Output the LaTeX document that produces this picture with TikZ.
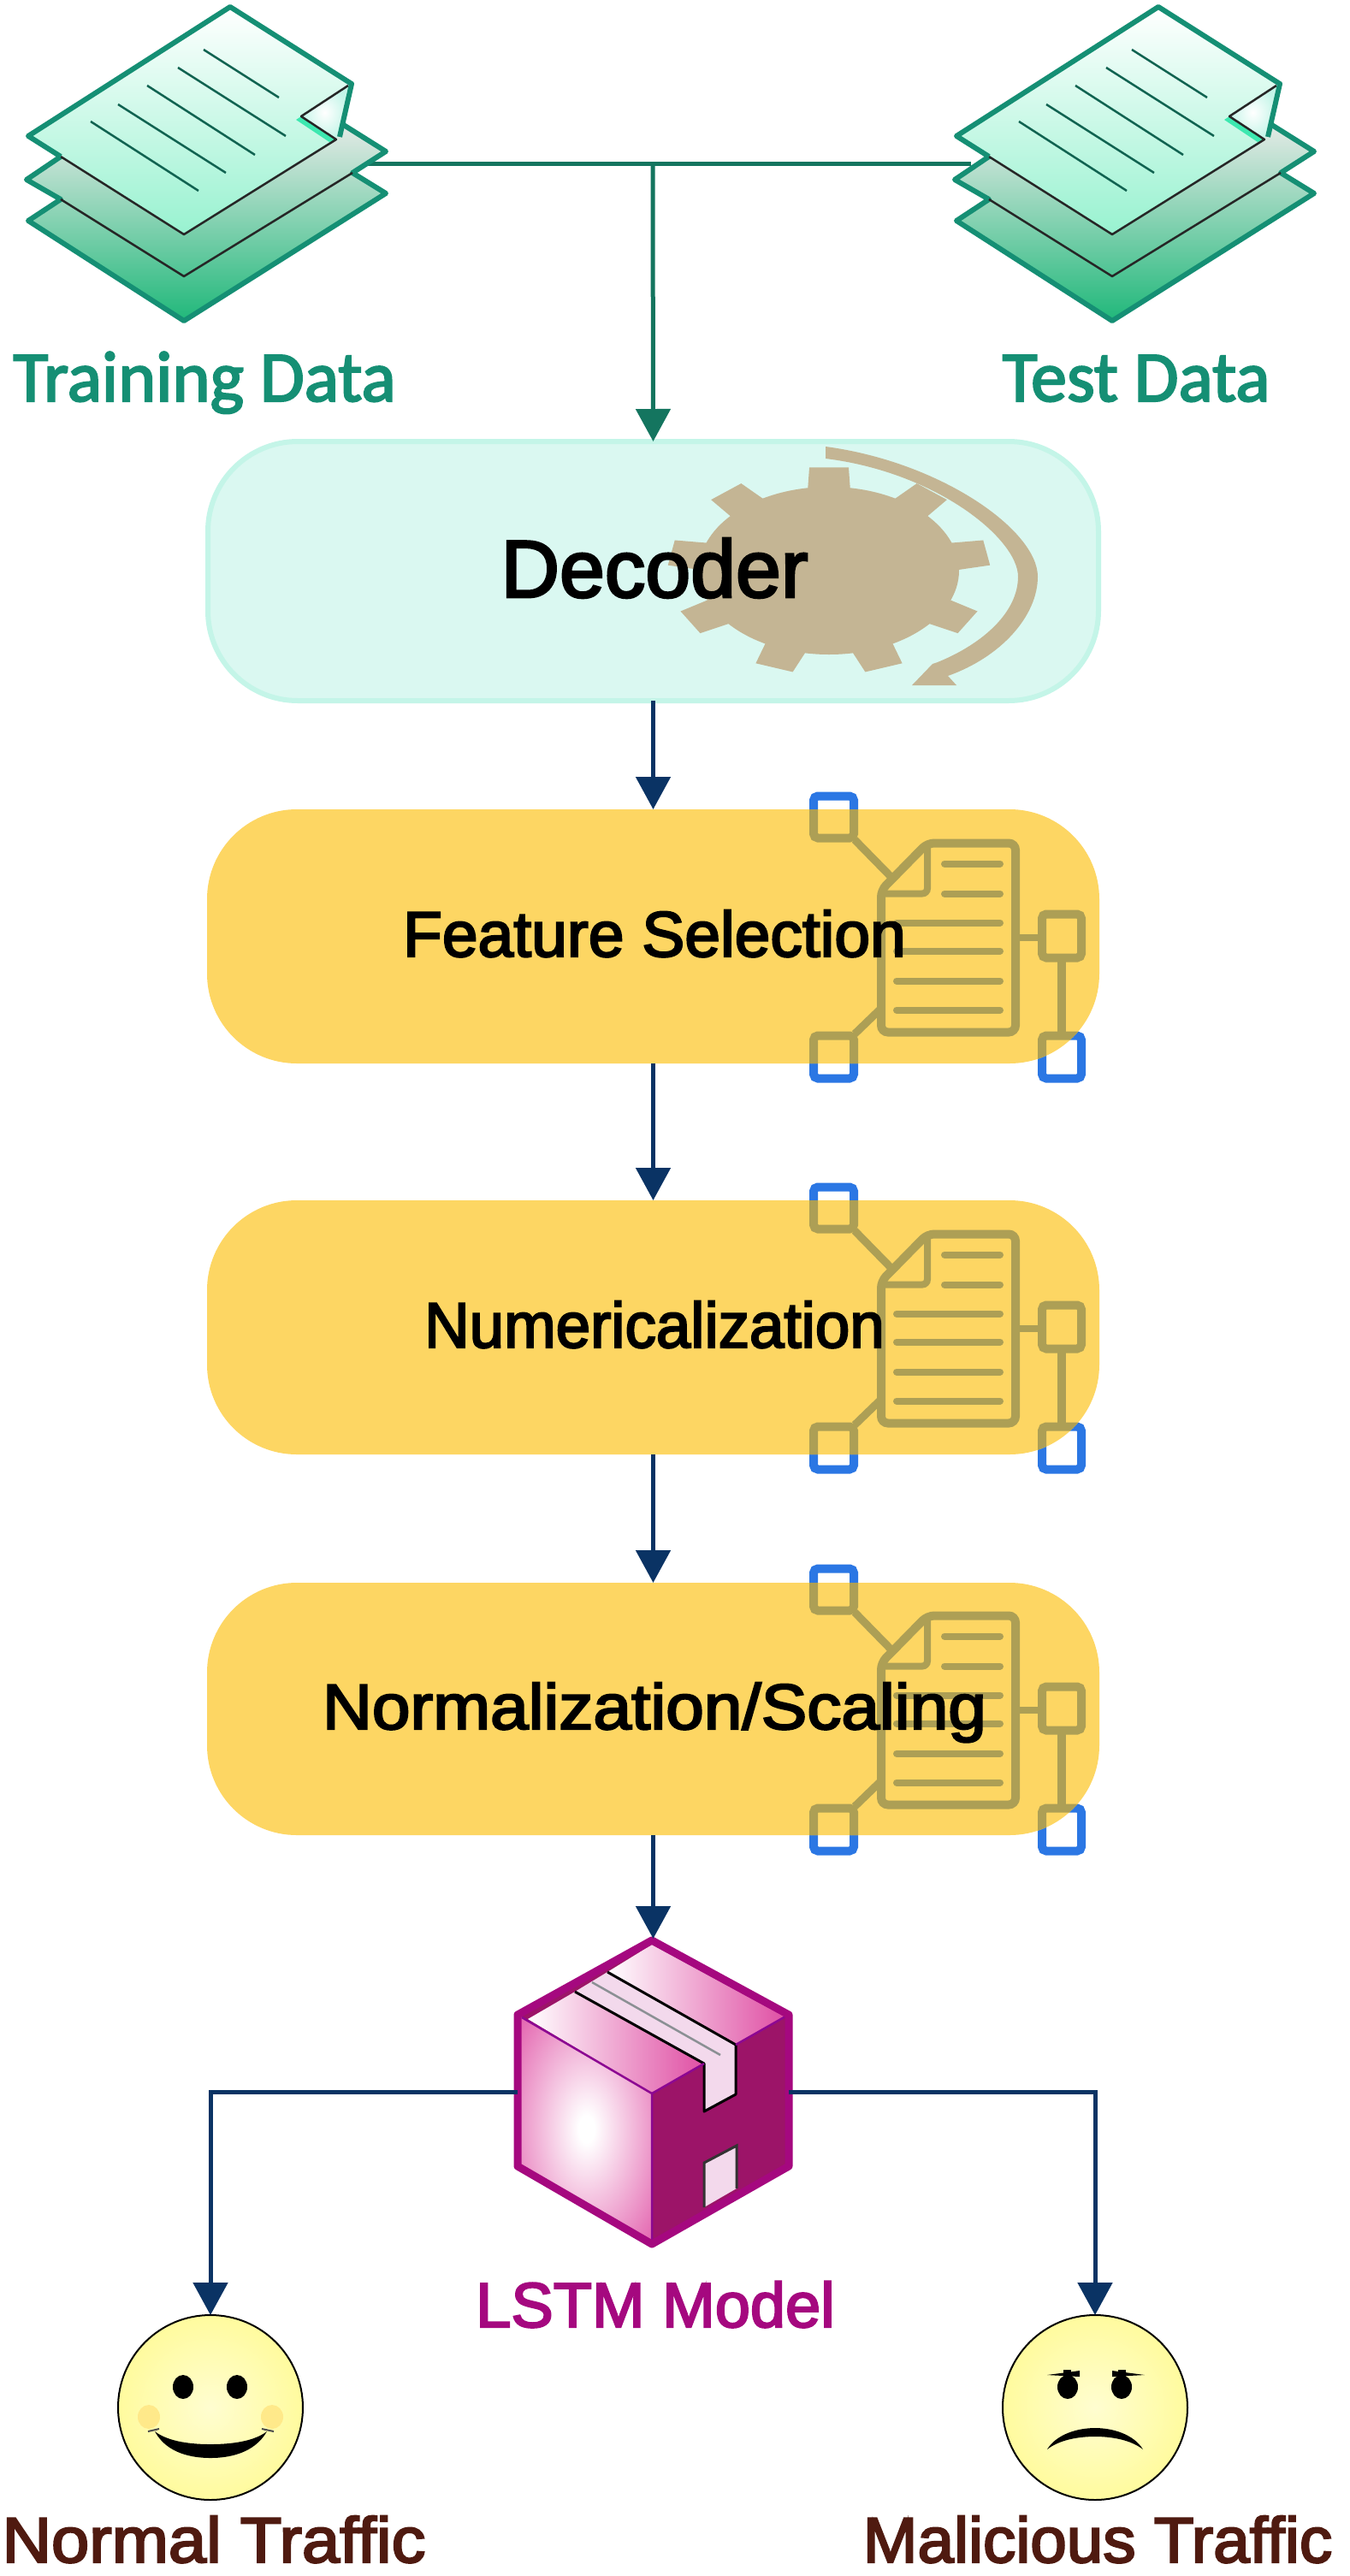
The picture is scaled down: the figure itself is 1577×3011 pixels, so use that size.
\documentclass[tikz,border=0pt]{standalone}
\usepackage{fontspec}
\usepackage{graphicx}
\setmainfont{Liberation Sans}
\newfontfamily\tealfont{Carlito}[FakeBold=2.5]
\newfontfamily\thickfont{Liberation Sans}[FakeBold=3]
\usetikzlibrary{arrows.meta,shapes.geometric}
\definecolor{teald}{HTML}{14755F}
\definecolor{tealb}{HTML}{158F74}
\definecolor{navy}{HTML}{0A3364}
\definecolor{cyanb}{HTML}{DAF8F1}
\definecolor{cyane}{HTML}{C4F5E8}
\definecolor{gold}{HTML}{FDD663}
\definecolor{olive}{HTML}{AD9F55}
\definecolor{iblue}{HTML}{2B77E4}
\definecolor{tan}{HTML}{C4B594}
\definecolor{mag}{HTML}{A5087F}
\definecolor{magd}{HTML}{9C1468}
\definecolor{magl}{HTML}{DC3C9A}
\definecolor{tape}{HTML}{F3D9EC}
\definecolor{brownt}{HTML}{4F1A10}
\definecolor{stacktop}{HTML}{E4EAE6}
\definecolor{stackmid}{HTML}{90C9AA}
\definecolor{stackbot}{HTML}{20B87A}
\definecolor{sheetbot}{HTML}{98F2D0}
\definecolor{foldteal}{HTML}{3DE8B0}
\definecolor{facein}{HTML}{FFFDD0}
\definecolor{faceout}{HTML}{FFFB9E}
\definecolor{cheek}{HTML}{FFE98A}
\pgfdeclareradialshading{boxface}{\pgfpointorigin}{color(0bp)=(white);color(3bp)=(white);color(44bp)=(magl);color(100bp)=(magl)}
\tikzset{
  boxbase/.style={rectangle,rounded corners=105pt,inner sep=0pt,outer sep=0pt},
  ybox/.style={boxbase,fill=gold,minimum width=1043pt},
  dbox/.style={boxbase,fill=cyanb,draw=cyane,line width=6pt,minimum width=1041pt,minimum height=303pt},
  ytext/.style={inner sep=0pt,anchor=base,font=\thickfont\fontsize{75}{80}\selectfont},
  dtext/.style={inner sep=0pt,anchor=base,font=\thickfont\fontsize{95}{100}\selectfont},
  navyarrow/.style={draw=navy,line width=5pt,-{Triangle[length=38pt,width=40pt]}},
  tealline/.style={draw=teald,line width=5pt},
  tealarrow/.style={tealline,-{Triangle[length=38pt,width=40pt]}},
  tlabel/.style={text=tealb,anchor=base,inner sep=0pt,font=\tealfont\fontsize{84}{90}\selectfont},
  blabel/.style={text=brownt,anchor=base,inner sep=0pt,font=\thickfont\fontsize{75}{80}\selectfont},
  hidden/.style={rectangle,inner sep=0pt,outer sep=0pt},
  face/.style={circle,draw=black,line width=2pt,inner color=facein,outer color=faceout,minimum size=216pt,inner sep=0pt,outer sep=0pt},
  iconline/.style={line width=10pt,rounded corners=5pt},
  iconrow/.style={line width=8pt,line cap=round},
}
\newcommand{\docicon}[1]{%
  \begin{scope}[draw=#1,sharp corners]
    \draw[iconline] (187,-164) rectangle (234,-115);
    \draw[line width=9pt] (235,-113) -- (280,-67);
    \draw[iconline,rounded corners=8pt] (320,-109) -- (423,-109) -- (423,112) -- (266,112) -- (266,-54) -- cycle;
    \draw[line width=8pt,rounded corners=6pt] (320,-109) -- (320,-50) -- (266,-50);
    \draw[iconrow] (340,-85) -- (405,-85);
    \draw[iconrow] (340,-50) -- (405,-50);
    \draw[iconrow] (284,-16) -- (405,-16);
    \draw[iconrow] (284,17) -- (405,17);
    \draw[iconrow] (284,52) -- (405,52);
    \draw[iconrow] (284,86) -- (405,86);
    \draw[iconline] (454,-26) rectangle (500,25);
    \draw[line width=8pt] (423,1) -- (454,1);
    \draw[line width=10pt] (477,25) -- (477,116);
    \draw[iconline] (454,116) rectangle (500,166);
    \draw[iconline] (187,116) rectangle (234,166);
    \draw[line width=9pt] (235,114) -- (264,86);
  \end{scope}}
% #1 node name, #2 centre y, #3 height, #4 text
\newcommand{\stepbox}[4]{%
  \begin{scope}[shift={(764,#2)}]\docicon{iblue}\end{scope}
  \node[ybox,minimum height=#3 pt] (#1) at (763.5,#2) {};
  \begin{scope}
    \clip[rounded corners=105pt] (242,#2-#3/2) rectangle (1285,#2+#3/2);
    \begin{scope}[shift={(764,#2)}]\docicon{olive}\end{scope}
  \end{scope}
  \node[ytext] (#1l) at (765,#2+23.5) {#4};
}
\newcommand{\datastack}{%
  \draw[draw=tealb,line width=6pt,line join=round,top color=stacktop,middle color=stackmid,bottom color=stackbot]
    (71,183) -- (31,210) -- (71,233) -- (33,258) -- (215,375) -- (451,226) -- (412,202) -- (451,177) -- (400,145) -- (300,150) -- cycle;
  \draw[black!85,line width=2.5pt,line join=round] (71,233) -- (215,323) -- (412,202);
  \path[top color=white,bottom color=sheetbot] (269,8) -- (411,98) -- (393,163) -- (215,274) -- (33,159) -- cycle;
  \fill[foldteal] (346,140) -- (352,136) -- (393,163) -- (385,166) -- cycle;
  \path[inner color=white,outer color=cyane] (352,136) -- (407,100) -- (393,163) -- cycle;
  \draw[black!85,line width=2.5pt,line join=round] (407,100) -- (352,136) -- (393,163) -- (215,274) -- (71,183);
  \draw[tealb,line width=6pt,line join=round] (71,183) -- (33,159) -- (269,8) -- (411,98) -- (397,160);
  \foreach \ax/\ay/\bx/\by in {238/58/326/114,208/79/334/159,172/100/298/181,138/122/264/202,106/142/232/223}
    \draw[teald!85!black,line width=2.5pt] (\ax,\ay) -- (\bx,\by);
}
\begin{document}
\begin{tikzpicture}[x=1pt,y=-1pt]
\useasboundingbox[fill=white] (0,0) rectangle (1577,3011);

% hidden anchors for the pictograms
\node[hidden,minimum width=386pt,minimum height=10pt] (train) at (233,191) {};
\node[hidden,minimum width=10pt,minimum height=10pt] (test) at (1140,191) {};
\coordinate (join) at (763,191);

\draw[tealline] (train.east) -- (test.west);
\datastack
\begin{scope}[shift={(1085,0)}]\datastack\end{scope}
\node[tlabel] (trainl) at (239,469) {Training Data};
\node[tlabel] (testl) at (1328,469) {Test Data};

% Decoder
\node[dbox] (dec) at (763.5,667.5) {};
\begin{scope}[shift={(969,667)},x=1.52pt,y=0.98pt]
  \fill[tan] (0,0) ellipse [x radius=100,y radius=100];
  \foreach \a in {90,50,10,-30,-70,-110,-150,170,130}
    \fill[tan] (\a-10:95) -- (\a-7:124) -- (\a+7:124) -- (\a+10:95) -- cycle;
\end{scope}
\fill[tan] (965,522) .. controls (1100,540) and (1213,620) .. (1213,674)
   .. controls (1213,720) and (1170,768) .. (1108,790) -- (1118,801) -- (1066,801) -- (1090,776) -- (1096,774)
   .. controls (1150,752) and (1190,715) .. (1190,674)
   .. controls (1190,630) and (1095,552) .. (965,536) -- cycle;
\node[dtext] (decl) at (765,698) {Decoder};

% yellow steps
\stepbox{fs}{1094.5}{297}{Feature Selection}
\stepbox{num}{1551.5}{297}{\scalebox{0.97}[1]{Numericalization}}
\stepbox{norm}{1997.5}{295}{\scalebox{1.07}[1]{Normalization/Scaling}}

% LSTM box
\node[hidden,minimum width=317pt,minimum height=359pt] (lstm) at (763.5,2445.5) {};
\fill[magd] (762,2268) -- (922,2355) -- (922,2532) -- (762,2623) -- (605,2532) -- (605,2355) -- cycle;
\path[shading=boxface] (609,2357) -- (762,2447) -- (762,2620) -- (609,2530) -- cycle;
\path[left color=white,right color=magl!90!white] (617,2360) -- (672,2328) -- (823,2412) -- (762,2447) -- cycle;
\path[left color=white,right color=magl!90!white] (710,2305) -- (762,2273) -- (917,2357) -- (860,2390) -- cycle;
\fill[tape] (672,2328) -- (710,2305) -- (860,2390) -- (860,2448) -- (823,2468) -- (823,2412) -- cycle;
\draw[black,line width=3pt,line join=round] (672,2328) -- (823,2412) -- (823,2468) -- (860,2448) -- (860,2390) -- (710,2305);
\draw[black!30!cyan!10!gray,line width=2.5pt] (692,2317) -- (842,2402);
\fill[tape] (823,2528) -- (861,2508) -- (861,2558) -- (823,2580) -- cycle;
\draw[black!80,line width=3pt] (823,2580) -- (823,2528) -- (861,2508) -- (861,2558);
\draw[mag!85!blue,line width=2.5pt] (610,2358) -- (762,2447) -- (762,2620);
\draw[mag!85!blue,line width=2.5pt] (762,2447) -- (823,2412);
\draw[mag!85!blue,line width=2.5pt] (860,2390) -- (918,2357);
\draw[mag,line width=9pt,line join=round] (762,2268) -- (922,2355) -- (922,2532) -- (762,2623) -- (605,2532) -- (605,2355) -- cycle;
\node[text=mag,anchor=base,inner sep=0pt,font=\thickfont\fontsize{74}{80}\selectfont] (lstml) at (766,2720) {LSTM Model};

% faces
\node[face] (normal) at (246,2814) {};
\node[face] (mal) at (1280,2814) {};
\fill (214,2790) ellipse [x radius=12,y radius=14];
\fill (277,2790) ellipse [x radius=12,y radius=14];
\fill[cheek] (174,2825) ellipse [x radius=13,y radius=14];
\fill[cheek] (318,2825) ellipse [x radius=13,y radius=14];
\fill (181,2842) .. controls (195,2868) and (225,2873) .. (246,2873) .. controls (267,2873) and (297,2868) .. (312,2842) .. controls (295,2855) and (265,2857) .. (246,2857) .. controls (227,2857) and (198,2855) .. (181,2842) -- cycle;
\draw[black!70,line width=2pt] (173,2842) -- (186,2839);
\draw[black!70,line width=2pt] (306,2839) -- (320,2842);
\fill (1248,2790) ellipse [x radius=12,y radius=14];
\fill (1311,2790) ellipse [x radius=12,y radius=14];
\fill (1224,2776) -- (1262,2771) -- (1262,2778) -- cycle;
\fill (1338,2776) -- (1300,2771) -- (1300,2778) -- cycle;
\fill (1243,2770) rectangle (1252,2780);
\fill (1307,2770) rectangle (1316,2780);
\fill (1224,2863) .. controls (1235,2845) and (1260,2838) .. (1280,2838) .. controls (1300,2838) and (1325,2845) .. (1336,2863) .. controls (1322,2852) and (1300,2848) .. (1280,2848) .. controls (1260,2848) and (1238,2852) .. (1224,2863) -- cycle;
\node[blabel] (normall) at (250,2995) {\scalebox{1.06}[1]{Normal Traffic}};
\node[blabel] (mall) at (1283,2995) {\scalebox{1.02}[1]{Malicious Traffic}};

% connectors
\draw[tealarrow] (join) -- (dec.north);
\draw[navyarrow] (dec.south) -- (fs.north);
\draw[navyarrow] (fs.south) -- (num.north);
\draw[navyarrow] (num.south) -- (norm.north);
\draw[navyarrow] (norm.south) -- (lstm.north);
\draw[navyarrow] (lstm.west) -| (normal.north);
\draw[navyarrow] (lstm.east) -| (mal.north);
\end{tikzpicture}
\end{document}
